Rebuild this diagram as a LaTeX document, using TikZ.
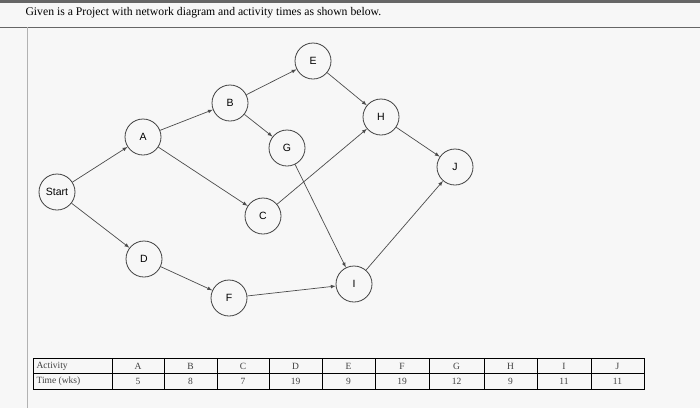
\documentclass[tikz,border=0pt]{standalone}
\usepackage{fontspec}
\newfontfamily\sansf{Liberation Sans}
\setmainfont{Liberation Serif}
\begin{document}
\begin{tikzpicture}[x=1pt,y=-1pt,
  nd/.style={circle,draw=black!75,line width=0.8pt,minimum size=36pt,inner sep=0pt,font=\sansf\fontsize{10.5}{12}\selectfont},
  ar/.style={-latex,draw=black!70,line width=0.7pt},
  cell/.style={font=\fontsize{9.5}{10}\selectfont,text=black!75}]
\fill[white!94!gray] (0,0) rectangle (700,408);
\useasboundingbox (0,0) rectangle (700,408);
\fill[black!60] (0,0) rectangle (700,3);
\node[anchor=west,font=\fontsize{11.7}{13}\selectfont] (title) at (22,13) {Given is a Project with network diagram and activity times as shown below.};
\draw[black!60] (0,27) -- (700,27);
\draw[black!30] (27,27) -- (27,408);
\node[nd] (S) at (57,192) {Start};
\node[nd] (A) at (143,137) {A};
\node[nd] (B) at (230,103) {B};
\node[nd] (E) at (313,61) {E};
\node[nd] (G) at (287,148) {G};
\node[nd] (H) at (381,117) {H};
\node[nd] (J) at (455,167) {J};
\node[nd] (C) at (263,216) {C};
\node[nd] (D) at (144,259) {D};
\node[nd] (F) at (229,298) {F};
\node[nd] (I) at (354,284) {I};
\draw[ar] (S) -- (A); \draw[ar] (S) -- (D);
\draw[ar] (A) -- (B); \draw[ar] (A) -- (C);
\draw[ar] (B) -- (E); \draw[ar] (B) -- (G);
\draw[ar] (E) -- (H); \draw[ar] (C) -- (H);
\draw[ar] (G) -- (I); \draw[ar] (D) -- (F);
\draw[ar] (F) -- (I); \draw[ar] (H) -- (J); \draw[ar] (I) -- (J);
% table
\draw[line width=0.8pt] (33,358) rectangle (644,389);
\draw[line width=0.8pt] (33,373.5) -- (644,373.5);
\foreach \x in {112,164,217,269,322,375,429,484,537,591}{\draw[line width=0.8pt] (\x,358) -- (\x,389);}
\node[cell,anchor=west] (h0) at (33,366) {Activity};
\node[cell,anchor=west] (t0) at (33,381) {Time (wks)};
\foreach \l/\t/\a/\b in {A/5/112/164,B/8/164/217,C/7/217/269,D/19/269/322,E/9/322/375,F/19/375/429,G/12/429/484,H/9/484/537,I/11/537/591,J/11/591/644}{
  \node[cell] (h\l) at ({(\a+\b)/2},366) {\l};
  \node[cell] (t\l) at ({(\a+\b)/2},381) {\t};
}
\end{tikzpicture}
\end{document}
